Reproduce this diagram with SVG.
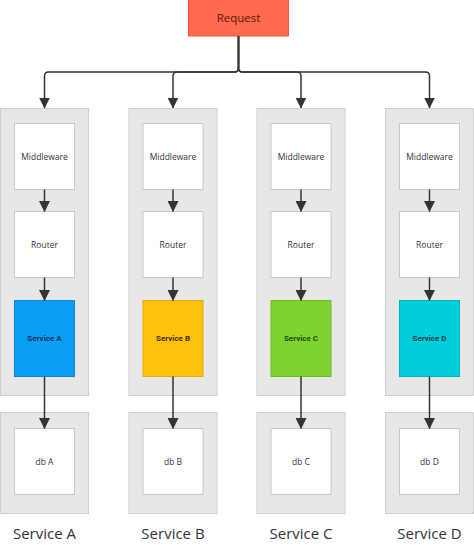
<svg xmlns="http://www.w3.org/2000/svg" width="474" height="545" viewBox="0 0 474 545">
<defs>
<marker id="arr" markerWidth="11" markerHeight="11" refX="10.5" refY="5.5" orient="auto" markerUnits="userSpaceOnUse">
<path d="M0,0 L11,5.5 L0,11 Z" fill="#333"/>
</marker>
<style>
.cont{fill:#e7e7e7;stroke:#cfcfcf;stroke-width:1}
.box{fill:#fff;stroke:#c8c8c8;stroke-width:1}
.t{font-family:"Open Sans","Noto Sans",sans-serif;font-size:8.5px;fill:#333;text-anchor:middle;dominant-baseline:central}
.st{font-family:Roboto,"Liberation Sans",sans-serif;font-weight:bold;font-size:8px;text-anchor:middle;dominant-baseline:central}
.lbl{font-family:"Open Sans","Noto Sans",sans-serif;font-size:15px;fill:#333;text-anchor:middle}
.c{fill:none;stroke:#333;stroke-width:1.5;marker-end:url(#arr)}
</style>
</defs>
<g id="request">
<rect x="188.5" y="-1" width="100" height="37" fill="#ff6a50" stroke="#f0563c"/>
<text x="238.5" y="17.5" font-family="Open Sans, Noto Sans, sans-serif" font-size="11.5" fill="#5a1608" text-anchor="middle" dominant-baseline="central">Request</text>
</g>
<g id="serviceA-col">
<rect class="cont" x="0.5" y="108.5" width="88" height="287"/>
<rect class="cont" x="0.5" y="412.5" width="88" height="101"/>
<g id="mwA"><rect class="box" x="14.5" y="123.5" width="60" height="66"/><text class="t" x="44.5" y="156">Middleware</text></g>
<g id="routerA"><rect class="box" x="14.5" y="211.5" width="60" height="66"/><text class="t" x="44.5" y="244">Router</text></g>
<g id="svcA"><rect x="14.5" y="300.5" width="60" height="76" fill="#0a9df2" stroke="#0888d6"/><text class="st" x="44.5" y="338" fill="#0c3358">Service A</text></g>
<g id="dbA"><rect class="box" x="14.5" y="428.5" width="60" height="66"/><text class="t" x="44.5" y="461">db A</text></g>
<text class="lbl" x="44.5" y="539">Service A</text>
</g>
<g id="serviceB-col">
<rect class="cont" x="129" y="108.5" width="88" height="287"/>
<rect class="cont" x="129" y="412.5" width="88" height="101"/>
<g id="mwB"><rect class="box" x="143" y="123.5" width="60" height="66"/><text class="t" x="173" y="156">Middleware</text></g>
<g id="routerB"><rect class="box" x="143" y="211.5" width="60" height="66"/><text class="t" x="173" y="244">Router</text></g>
<g id="svcB"><rect x="143" y="300.5" width="60" height="76" fill="#fec20c" stroke="#e3ab00"/><text class="st" x="173" y="338" fill="#3d2c00">Service B</text></g>
<g id="dbB"><rect class="box" x="143" y="428.5" width="60" height="66"/><text class="t" x="173" y="461">db B</text></g>
<text class="lbl" x="173" y="539">Service B</text>
</g>
<g id="serviceC-col">
<rect class="cont" x="257" y="108.5" width="88" height="287"/>
<rect class="cont" x="257" y="412.5" width="88" height="101"/>
<g id="mwC"><rect class="box" x="271" y="123.5" width="60" height="66"/><text class="t" x="301" y="156">Middleware</text></g>
<g id="routerC"><rect class="box" x="271" y="211.5" width="60" height="66"/><text class="t" x="301" y="244">Router</text></g>
<g id="svcC"><rect x="271" y="300.5" width="60" height="76" fill="#7ed42e" stroke="#6abb1e"/><text class="st" x="301" y="338" fill="#1f4a05">Service C</text></g>
<g id="dbC"><rect class="box" x="271" y="428.5" width="60" height="66"/><text class="t" x="301" y="461">db C</text></g>
<text class="lbl" x="301" y="539">Service C</text>
</g>
<g id="serviceD-col">
<rect class="cont" x="385.5" y="108.5" width="88" height="287"/>
<rect class="cont" x="385.5" y="412.5" width="88" height="101"/>
<g id="mwD"><rect class="box" x="399.5" y="123.5" width="60" height="66"/><text class="t" x="429.5" y="156">Middleware</text></g>
<g id="routerD"><rect class="box" x="399.5" y="211.5" width="60" height="66"/><text class="t" x="429.5" y="244">Router</text></g>
<g id="svcD"><rect x="399.5" y="300.5" width="60" height="76" fill="#00ced8" stroke="#00b3bd"/><text class="st" x="429.5" y="338" fill="#0a3a4a">Service D</text></g>
<g id="dbD"><rect class="box" x="399.5" y="428.5" width="60" height="66"/><text class="t" x="429.5" y="461">db D</text></g>
<text class="lbl" x="429.5" y="539">Service D</text>
</g>
<g id="connectors">
<path class="c" d="M238.5,36 V68 Q238.5,72 234.5,72 H48.5 Q44.5,72 44.5,76 V108"/>
<path class="c" d="M238.5,36 V68 Q238.5,72 234.5,72 H177 Q173,72 173,76 V108"/>
<path class="c" d="M238.5,36 V68 Q238.5,72 242.5,72 H297 Q301,72 301,76 V108"/>
<path class="c" d="M238.5,36 V68 Q238.5,72 242.5,72 H425.5 Q429.5,72 429.5,76 V108"/>
<path class="c" d="M44.5,189.5 V211.5"/>
<path class="c" d="M44.5,277.5 V300.5"/>
<path class="c" d="M44.5,376.5 V428.5"/>
<path class="c" d="M173,189.5 V211.5"/>
<path class="c" d="M173,277.5 V300.5"/>
<path class="c" d="M173,376.5 V428.5"/>
<path class="c" d="M301,189.5 V211.5"/>
<path class="c" d="M301,277.5 V300.5"/>
<path class="c" d="M301,376.5 V428.5"/>
<path class="c" d="M429.5,189.5 V211.5"/>
<path class="c" d="M429.5,277.5 V300.5"/>
<path class="c" d="M429.5,376.5 V428.5"/>
</g>
</svg>
